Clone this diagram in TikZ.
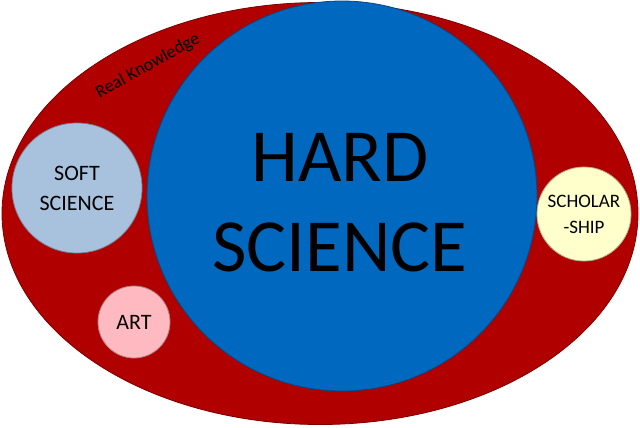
\documentclass[tikz,border=0pt]{standalone}
\usetikzlibrary{shapes.geometric}
\usepackage{fontspec}
\setmainfont{Carlito}
\begin{document}
\begin{tikzpicture}[x=1pt,y=-1pt,
  circ/.style={draw=#1!70!black, line width=0.8pt, align=center, inner sep=0pt}]
\useasboundingbox (0,0) rectangle (640,428);
\definecolor{kred}{HTML}{B00000}
\definecolor{kblue}{HTML}{0068BE}
\definecolor{ksoft}{HTML}{A8C2DE}
\definecolor{kart}{HTML}{FFB9C0}
\definecolor{kschol}{HTML}{FFFFCC}
\node[draw=kred!70!black, line width=0.8pt, fill=kred, ellipse, minimum width=636pt, minimum height=422pt, inner sep=0pt] (outer) at (320,213.5) {};
\node[circ=kblue, fill=kblue, circle, minimum size=390pt] (hard) at (342,196) {};
\node[font=\fontsize{75}{90}\selectfont, align=center] (hardt) at (340,203) {HARD\\SCIENCE};
\node[circ=ksoft, fill=ksoft, circle, minimum size=130pt, font=\fontsize{22}{30}\selectfont] (soft) at (77,188) {SOFT\\SCIENCE};
\node[circ=kart, fill=kart, circle, minimum size=72pt, font=\fontsize{22}{26}\selectfont] (art) at (134,322) {ART};
\node[circ=kschol, fill=kschol, circle, minimum size=94pt, font=\fontsize{19}{26}\selectfont] (schol) at (584,214) {SCHOLAR\\-SHIP};
\node[rotate=29, font=\fontsize{18}{20}\selectfont] (rk) at (148,66) {Real Knowledge};
\end{tikzpicture}
\end{document}
